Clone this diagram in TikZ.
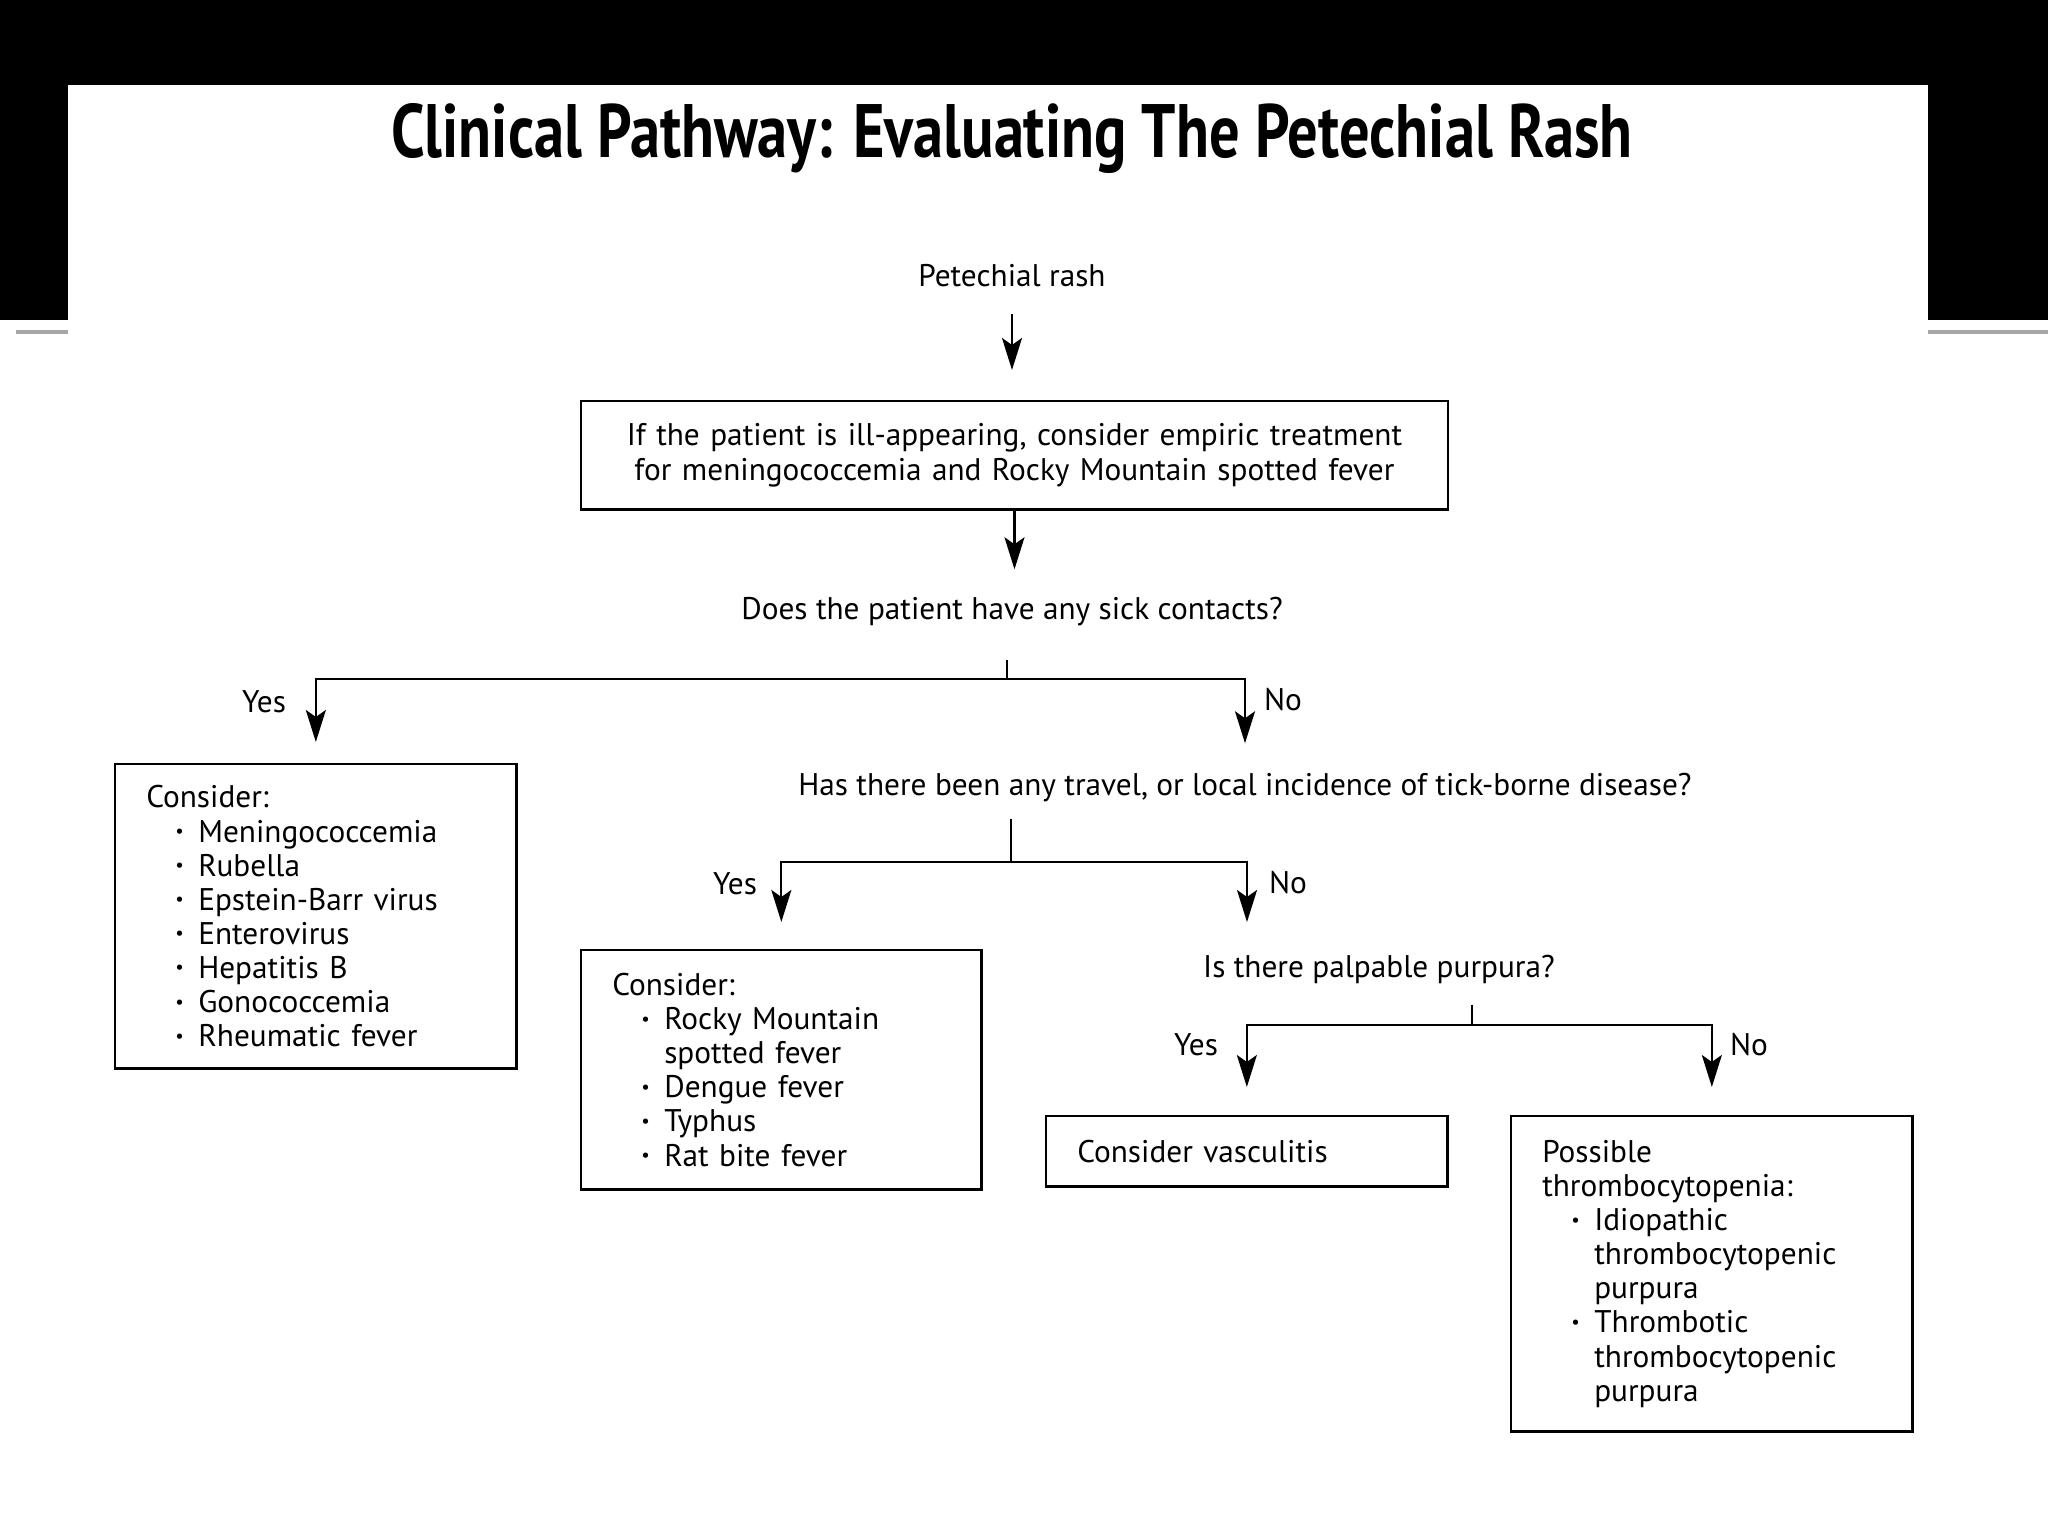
\documentclass[tikz,border=0pt]{standalone}
\usepackage{fontspec}
\setmainfont{PT Sans}
\usetikzlibrary{arrows.meta}
\newcommand{\bul}{\hspace*{0.29cm}\makebox[0.23cm][l]{\raisebox{0.045cm}{\scalebox{0.6}{\textbullet}}}}
\newcommand{\cont}{\hspace*{0.52cm}}

\begin{document}
\begin{tikzpicture}[x=0.01cm, y=-0.01cm, >={Stealth[length=0.32cm,width=0.2cm,inset=0.07cm]},
    every node/.style={font=\fontsize{8.9pt}{9.7pt}\selectfont},
    txt/.style={inner sep=0pt, text height=0.2cm, text depth=0.06cm},
    box/.style={draw, line width=0.7pt, inner xsep=0.31cm, inner ysep=0pt, align=left, anchor=north west},
    link/.style={line width=0.6pt}]
    \useasboundingbox (0,0) rectangle (2048,1536);
    % slide frame
    \fill[white] (0,0) rectangle (2048,1536);
    \fill[black] (0,0) rectangle (2048,320);
    \fill[white] (68,85) rectangle (1928,1536);
    \draw[gray!70, line width=1.2pt] (16,332) -- (68,332) (1928,332) -- (2048,332);
    \node[anchor=base, inner sep=0pt] (title) at (1012,157)
        {\resizebox{12.41cm}{0.54cm}{\bfseries Clinical Pathway: Evaluating The Petechial Rash}};

    \node[txt] (rash) at (1012,279) {Petechial rash};
    \node[box, align=center, text width=8.04cm, minimum height=1.08cm] (ill) at (580,400)
        {If the patient is ill-appearing, consider empiric treatment\\
         for meningococcemia and Rocky Mountain spotted fever};
    \node[txt] (q1) at (1012,612) {Does the patient have any sick contacts?};
    \node[box, text width=3.39cm, minimum height=3.04cm] (consA) at (114,763)
        {Consider:\\ \bul Meningococcemia\\ \bul Rubella\\ \bul Epstein-Barr virus\\
         \bul Enterovirus\\ \bul Hepatitis B\\ \bul Gonococcemia\\ \bul Rheumatic fever};
    \node[txt] (q2) at (1245,788) {Has there been any travel, or local incidence of tick-borne disease?};
    \node[box, text width=3.38cm, minimum height=2.39cm] (consB) at (580,949)
        {Consider:\\ \bul Rocky Mountain\\ \cont spotted fever\\ \bul Dengue fever\\
         \bul Typhus\\ \bul Rat bite fever};
    \node[txt] (q3) at (1379,970) {Is there palpable purpura?};
    \node[box, text width=3.39cm, minimum height=0.7cm] (vasc) at (1045,1115) {Consider vasculitis};
    \node[box, text width=3.39cm, minimum height=3.15cm] (thromb) at (1510,1115)
        {Possible\\ thrombocytopenia:\\ \bul Idiopathic\\ \cont thrombocytopenic\\ \cont purpura\\
         \bul Thrombotic\\ \cont thrombocytopenic\\ \cont purpura};

    \foreach \n/\x/\y in {1/264/705, 2/735/887, 3/1196/1048}
        \node[txt] (yes\n) at (\x,\y) {Yes};
    \foreach \n/\x/\y in {1/1283/703, 2/1288/886, 3/1749/1048}
        \node[txt] (no\n) at (\x,\y) {No};

    \draw[->, link, shorten <=0.21cm, shorten >=0.3cm] (rash.south) -- (rash.south |- ill.north);
    \draw[->, link, shorten >=0.29cm] (ill.south) -- (ill.south |- q1.north);

    \coordinate (j1) at (1007,679);
    \draw[link, shorten <=0.34cm] (q1.south -| j1) -- (j1);
    \draw[->, link, shorten >=0.21cm] (j1) -| (consA.north);
    \draw[->, link, shorten >=0.31cm] (j1) -| (q2.north);

    \coordinate (j2) at (1011,862);
    \coordinate (n2) at (1247,922);
    \draw[link, shorten <=0.17cm] (q2.south -| j2) -- (j2);
    \draw[->, link, shorten >=0.27cm] (j2) -| (consB.north);
    \draw[->, link] (j2) -| (n2);

    \coordinate (j3) at (1472,1025);
    \draw[link, shorten <=0.21cm] (q3.south -| j3) -- (j3);
    \draw[->, link, shorten >=0.28cm] (j3) -| (vasc.north);
    \draw[->, link, shorten >=0.28cm] (j3) -| (thromb.north);
\end{tikzpicture}
\end{document}
